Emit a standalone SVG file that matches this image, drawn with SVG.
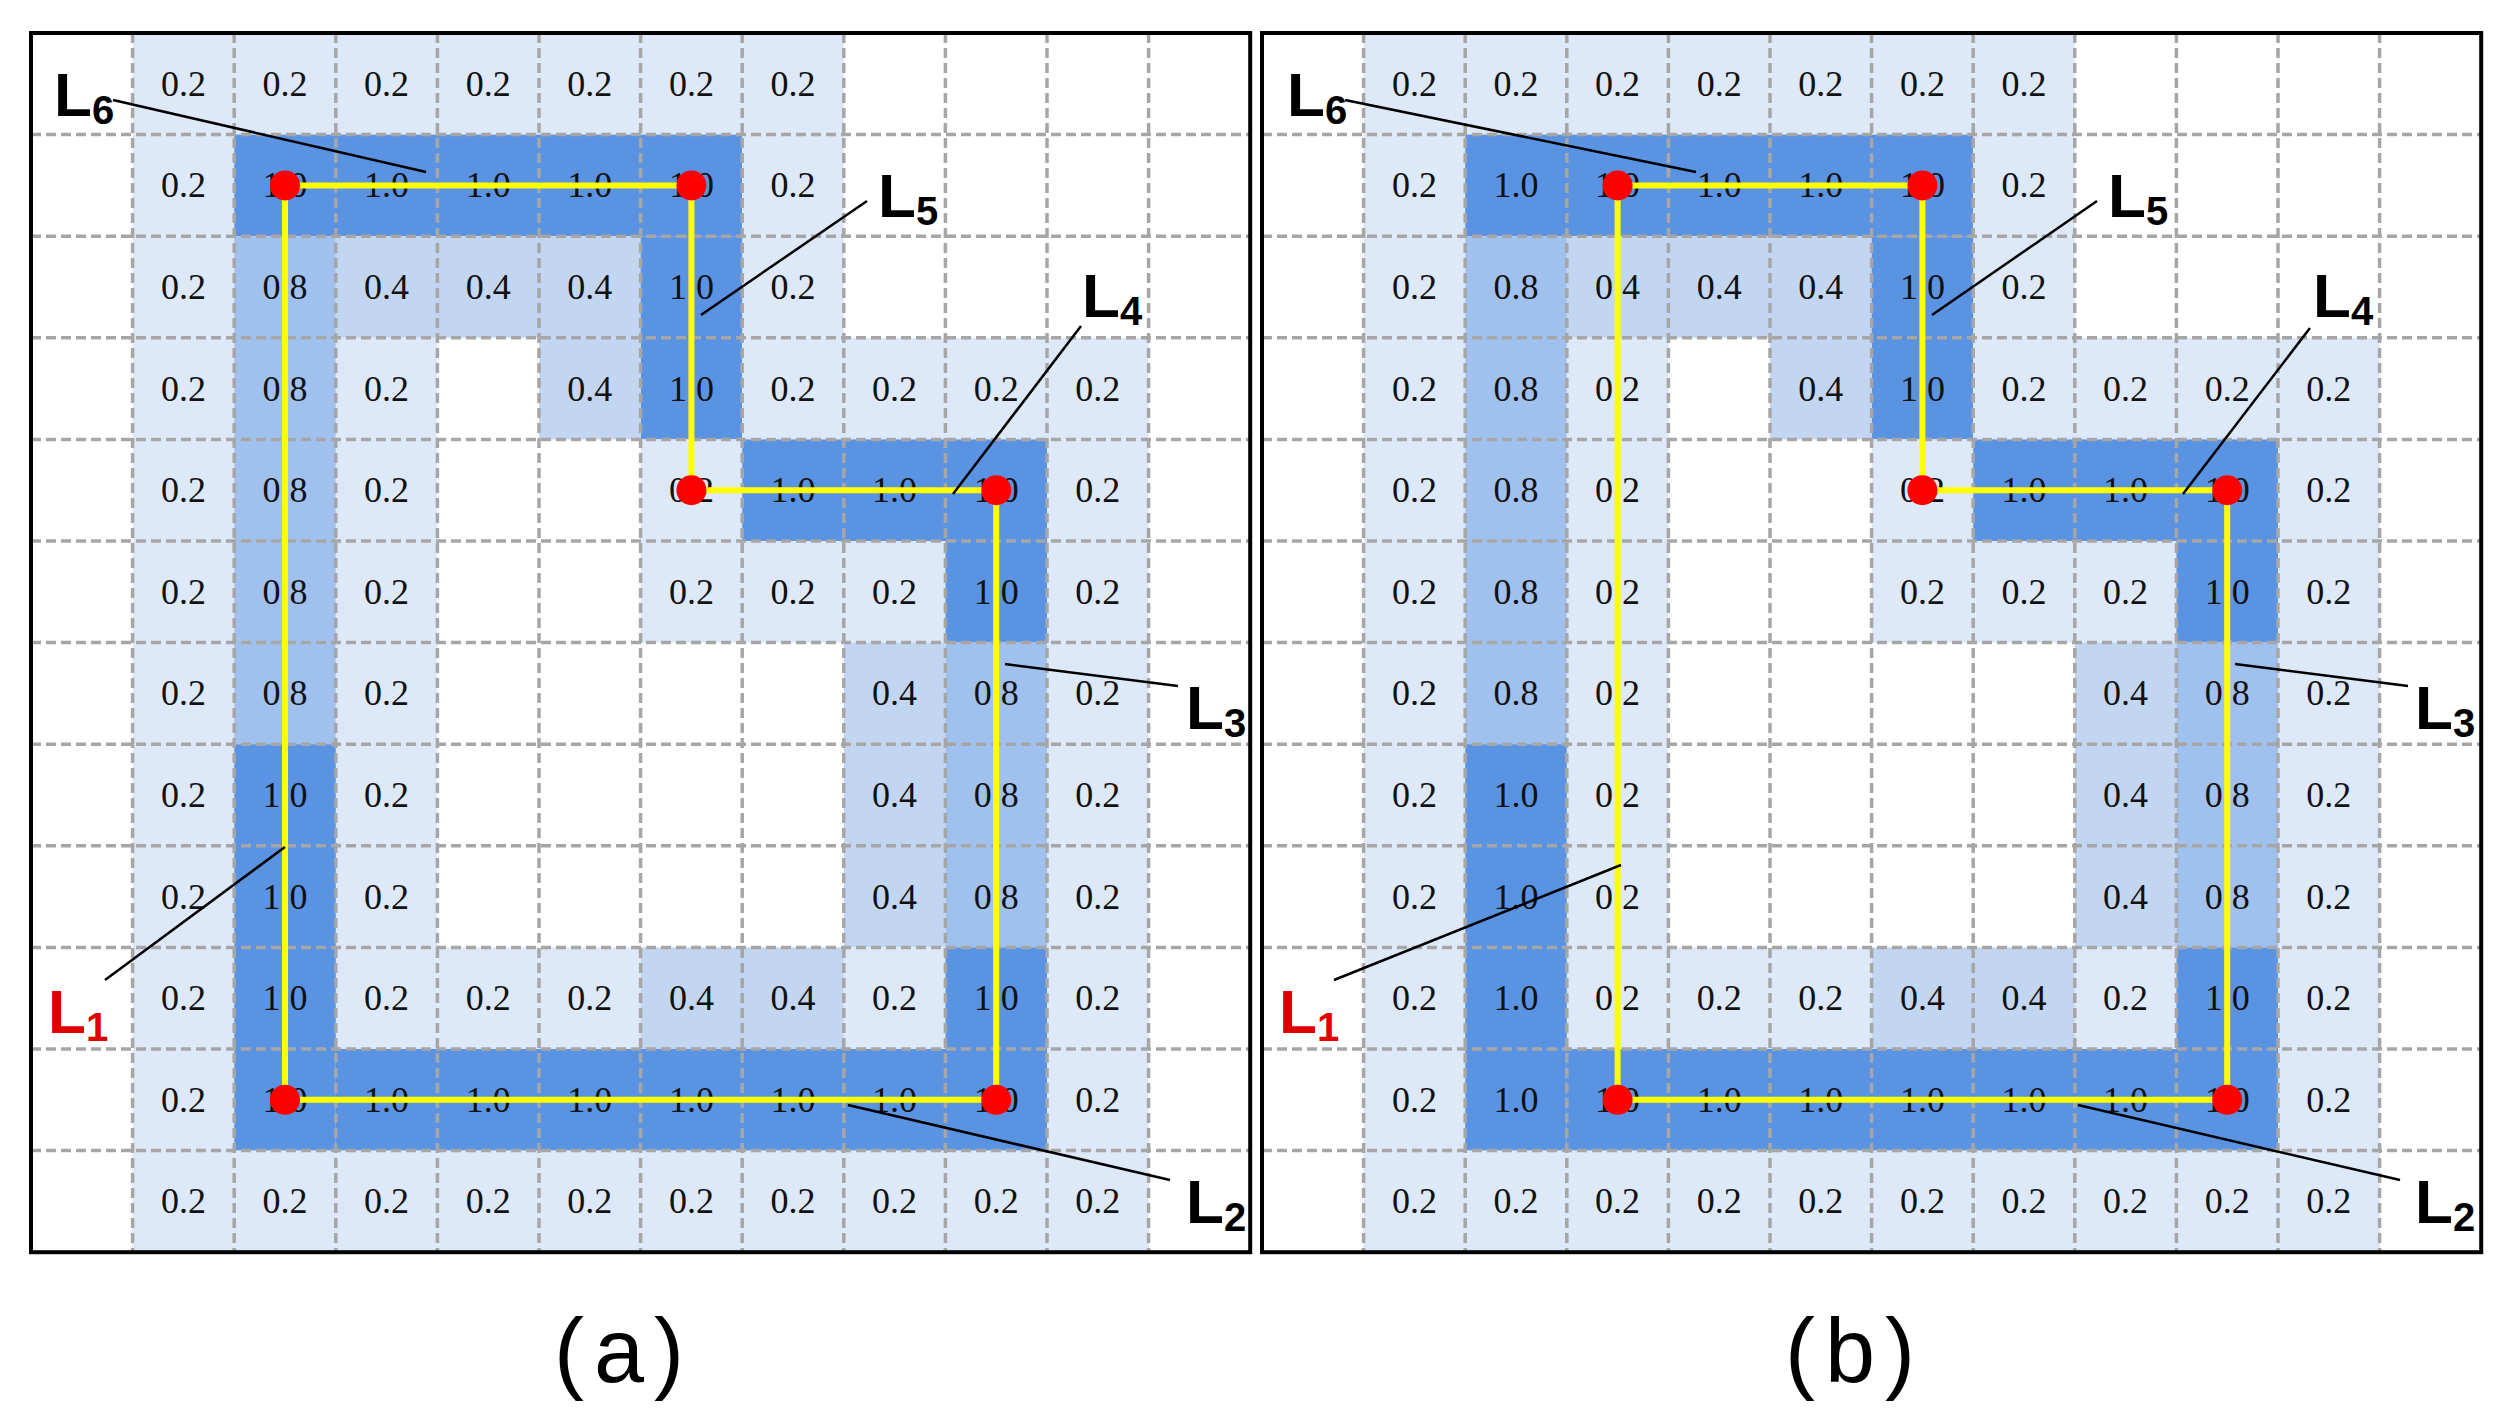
<svg xmlns="http://www.w3.org/2000/svg" xmlns:xlink="http://www.w3.org/1999/xlink" width="2511" height="1420" viewBox="0 0 2511 1420">
<style>
.l{fill:#dde8f8}.m4{fill:#c2d6f2}.m8{fill:#a0c0ee}.d{fill:#5b93e3}
.g{stroke:#a6a6a6;stroke-width:3.5;stroke-dasharray:10 5;fill:none}
.n{font-family:"Liberation Serif",serif;font-size:36px;fill:#111;text-anchor:middle}
.p{stroke:#ffff00;stroke-width:6;fill:none}
.dot{fill:#ff0000}
.ld{stroke:#000;stroke-width:2.5}
.lb{font-family:"Liberation Sans",Arial,sans-serif;font-weight:bold;font-size:62px;fill:#000}
.sb{font-size:40px}
.cap{font-family:"Liberation Sans",Arial,sans-serif;font-size:90px;fill:#000;text-anchor:middle;letter-spacing:10px}
</style>
<defs>
<g id="grid">
<rect width="1219.2" height="1219.2" fill="#fff"/>
<rect class="l" x="101.6" y="0" width="711.2" height="101.6"/>
<rect class="l" x="101.6" y="101.6" width="101.6" height="1117.6"/>
<rect class="d" x="203.2" y="101.6" width="508" height="101.6"/>
<rect class="l" x="711.2" y="101.6" width="101.6" height="203.2"/>
<rect class="m8" x="203.2" y="203.2" width="101.6" height="508"/>
<rect class="m4" x="304.8" y="203.2" width="304.8" height="101.6"/>
<rect class="d" x="609.6" y="203.2" width="101.6" height="203.2"/>
<rect class="l" x="304.8" y="304.8" width="101.6" height="711.2"/>
<rect class="m4" x="508" y="304.8" width="101.6" height="101.6"/>
<rect class="l" x="711.2" y="304.8" width="406.4" height="101.6"/>
<rect class="l" x="609.6" y="406.4" width="101.6" height="101.6"/>
<rect class="d" x="711.2" y="406.4" width="304.8" height="101.6"/>
<rect class="l" x="1016" y="406.4" width="101.6" height="812.8"/>
<rect class="l" x="609.6" y="508" width="304.8" height="101.6"/>
<rect class="d" x="914.4" y="508" width="101.6" height="101.6"/>
<rect class="m4" x="812.8" y="609.6" width="101.6" height="304.8"/>
<rect class="m8" x="914.4" y="609.6" width="101.6" height="304.8"/>
<rect class="d" x="203.2" y="711.2" width="101.6" height="406.4"/>
<rect class="l" x="406.4" y="914.4" width="203.2" height="101.6"/>
<rect class="m4" x="609.6" y="914.4" width="203.2" height="101.6"/>
<rect class="l" x="812.8" y="914.4" width="101.6" height="101.6"/>
<rect class="d" x="914.4" y="914.4" width="101.6" height="101.6"/>
<rect class="d" x="304.8" y="1016" width="711.2" height="101.6"/>
<rect class="l" x="101.6" y="1117.6" width="1016" height="101.6"/>
<path class="g" d="M101.6 0V1219.2M203.2 0V1219.2M304.8 0V1219.2M406.4 0V1219.2M508 0V1219.2M609.6 0V1219.2M711.2 0V1219.2M812.8 0V1219.2M914.4 0V1219.2M1016 0V1219.2M1117.6 0V1219.2M0 101.6H1219.2M0 203.2H1219.2M0 304.8H1219.2M0 406.4H1219.2M0 508H1219.2M0 609.6H1219.2M0 711.2H1219.2M0 812.8H1219.2M0 914.4H1219.2M0 1016H1219.2M0 1117.6H1219.2"/>
<g class="n">
<text x="152.4" y="62.8">0.2</text><text x="254" y="62.8">0.2</text><text x="355.6" y="62.8">0.2</text><text x="457.2" y="62.8">0.2</text><text x="558.8" y="62.8">0.2</text><text x="660.4" y="62.8">0.2</text><text x="762" y="62.8">0.2</text>
<text x="152.4" y="164.4">0.2</text><text x="254" y="164.4">1.0</text><text x="355.6" y="164.4">1.0</text><text x="457.2" y="164.4">1.0</text><text x="558.8" y="164.4">1.0</text><text x="660.4" y="164.4">1.0</text><text x="762" y="164.4">0.2</text>
<text x="152.4" y="266">0.2</text><text x="254" y="266">0.8</text><text x="355.6" y="266">0.4</text><text x="457.2" y="266">0.4</text><text x="558.8" y="266">0.4</text><text x="660.4" y="266">1.0</text><text x="762" y="266">0.2</text>
<text x="152.4" y="367.6">0.2</text><text x="254" y="367.6">0.8</text><text x="355.6" y="367.6">0.2</text><text x="558.8" y="367.6">0.4</text><text x="660.4" y="367.6">1.0</text><text x="762" y="367.6">0.2</text><text x="863.6" y="367.6">0.2</text><text x="965.2" y="367.6">0.2</text><text x="1066.8" y="367.6">0.2</text>
<text x="152.4" y="469.2">0.2</text><text x="254" y="469.2">0.8</text><text x="355.6" y="469.2">0.2</text><text x="660.4" y="469.2">0.2</text><text x="762" y="469.2">1.0</text><text x="863.6" y="469.2">1.0</text><text x="965.2" y="469.2">1.0</text><text x="1066.8" y="469.2">0.2</text>
<text x="152.4" y="570.8">0.2</text><text x="254" y="570.8">0.8</text><text x="355.6" y="570.8">0.2</text><text x="660.4" y="570.8">0.2</text><text x="762" y="570.8">0.2</text><text x="863.6" y="570.8">0.2</text><text x="965.2" y="570.8">1.0</text><text x="1066.8" y="570.8">0.2</text>
<text x="152.4" y="672.4">0.2</text><text x="254" y="672.4">0.8</text><text x="355.6" y="672.4">0.2</text><text x="863.6" y="672.4">0.4</text><text x="965.2" y="672.4">0.8</text><text x="1066.8" y="672.4">0.2</text>
<text x="152.4" y="774">0.2</text><text x="254" y="774">1.0</text><text x="355.6" y="774">0.2</text><text x="863.6" y="774">0.4</text><text x="965.2" y="774">0.8</text><text x="1066.8" y="774">0.2</text>
<text x="152.4" y="875.6">0.2</text><text x="254" y="875.6">1.0</text><text x="355.6" y="875.6">0.2</text><text x="863.6" y="875.6">0.4</text><text x="965.2" y="875.6">0.8</text><text x="1066.8" y="875.6">0.2</text>
<text x="152.4" y="977.2">0.2</text><text x="254" y="977.2">1.0</text><text x="355.6" y="977.2">0.2</text><text x="457.2" y="977.2">0.2</text><text x="558.8" y="977.2">0.2</text><text x="660.4" y="977.2">0.4</text><text x="762" y="977.2">0.4</text><text x="863.6" y="977.2">0.2</text><text x="965.2" y="977.2">1.0</text><text x="1066.8" y="977.2">0.2</text>
<text x="152.4" y="1078.8">0.2</text><text x="254" y="1078.8">1.0</text><text x="355.6" y="1078.8">1.0</text><text x="457.2" y="1078.8">1.0</text><text x="558.8" y="1078.8">1.0</text><text x="660.4" y="1078.8">1.0</text><text x="762" y="1078.8">1.0</text><text x="863.6" y="1078.8">1.0</text><text x="965.2" y="1078.8">1.0</text><text x="1066.8" y="1078.8">0.2</text>
<text x="152.4" y="1180.4">0.2</text><text x="254" y="1180.4">0.2</text><text x="355.6" y="1180.4">0.2</text><text x="457.2" y="1180.4">0.2</text><text x="558.8" y="1180.4">0.2</text><text x="660.4" y="1180.4">0.2</text><text x="762" y="1180.4">0.2</text><text x="863.6" y="1180.4">0.2</text><text x="965.2" y="1180.4">0.2</text><text x="1066.8" y="1180.4">0.2</text>
</g>
</g>
</defs>
<g id="panel-a" transform="translate(31,33)">
<use xlink:href="#grid" href="#grid"/>
<path class="p" d="M254 152.4H660.4V457.2H965.2V1066.8H254Z"/>
<g class="dot"><circle cx="254" cy="152.4" r="15"/><circle cx="660.4" cy="152.4" r="15"/><circle cx="660.4" cy="457.2" r="15"/><circle cx="965.2" cy="457.2" r="15"/><circle cx="965.2" cy="1066.8" r="15"/><circle cx="254" cy="1066.8" r="15"/></g>
<rect width="1219.2" height="1219.2" fill="none" stroke="#000" stroke-width="4"/>
</g>
<g id="panel-b" transform="translate(1262,33)">
<use xlink:href="#grid" href="#grid"/>
<path class="p" d="M355.6 152.4H660.4V457.2H965.2V1066.8H355.6Z"/>
<g class="dot"><circle cx="355.6" cy="152.4" r="15"/><circle cx="660.4" cy="152.4" r="15"/><circle cx="660.4" cy="457.2" r="15"/><circle cx="965.2" cy="457.2" r="15"/><circle cx="965.2" cy="1066.8" r="15"/><circle cx="355.6" cy="1066.8" r="15"/></g>
<rect width="1219.2" height="1219.2" fill="none" stroke="#000" stroke-width="4"/>
</g>
<g id="connectors">
<line class="ld" x1="113" y1="100" x2="426" y2="172"/>
<line class="ld" x1="867" y1="201" x2="701" y2="315"/>
<line class="ld" x1="1081" y1="326" x2="953" y2="494"/>
<line class="ld" x1="1178" y1="686" x2="1005" y2="664"/>
<line class="ld" x1="1170" y1="1180" x2="848" y2="1105"/>
<line class="ld" x1="105" y1="980" x2="285" y2="847"/>
<line class="ld" x1="1345" y1="100" x2="1696" y2="172"/>
<line class="ld" x1="2097" y1="201" x2="1932" y2="315"/>
<line class="ld" x1="2310" y1="328" x2="2183" y2="494"/>
<line class="ld" x1="2408" y1="686" x2="2235" y2="664"/>
<line class="ld" x1="2400" y1="1180" x2="2078" y2="1105"/>
<line class="ld" x1="1334" y1="980" x2="1621" y2="865"/>
</g>
<g id="labels">
<text class="lb" x="54" y="116">L<tspan class="sb" dy="8">6</tspan></text>
<text class="lb" x="878" y="217">L<tspan class="sb" dy="8">5</tspan></text>
<text class="lb" x="1082" y="317">L<tspan class="sb" dy="8">4</tspan></text>
<text class="lb" x="1186" y="729">L<tspan class="sb" dy="8">3</tspan></text>
<text class="lb" x="1186" y="1223">L<tspan class="sb" dy="8">2</tspan></text>
<text class="lb" x="48" y="1033" fill="#e00000" style="fill:#e00000">L<tspan class="sb" dy="8">1</tspan></text>
<text class="lb" x="1287" y="116">L<tspan class="sb" dy="8">6</tspan></text>
<text class="lb" x="2108" y="217">L<tspan class="sb" dy="8">5</tspan></text>
<text class="lb" x="2313" y="317">L<tspan class="sb" dy="8">4</tspan></text>
<text class="lb" x="2415" y="729">L<tspan class="sb" dy="8">3</tspan></text>
<text class="lb" x="2415" y="1223">L<tspan class="sb" dy="8">2</tspan></text>
<text class="lb" x="1279" y="1033" style="fill:#e00000">L<tspan class="sb" dy="8">1</tspan></text>
<text class="cap" x="624" y="1382">(a)</text>
<text class="cap" x="1855" y="1382">(b)</text>
</g>
</svg>
